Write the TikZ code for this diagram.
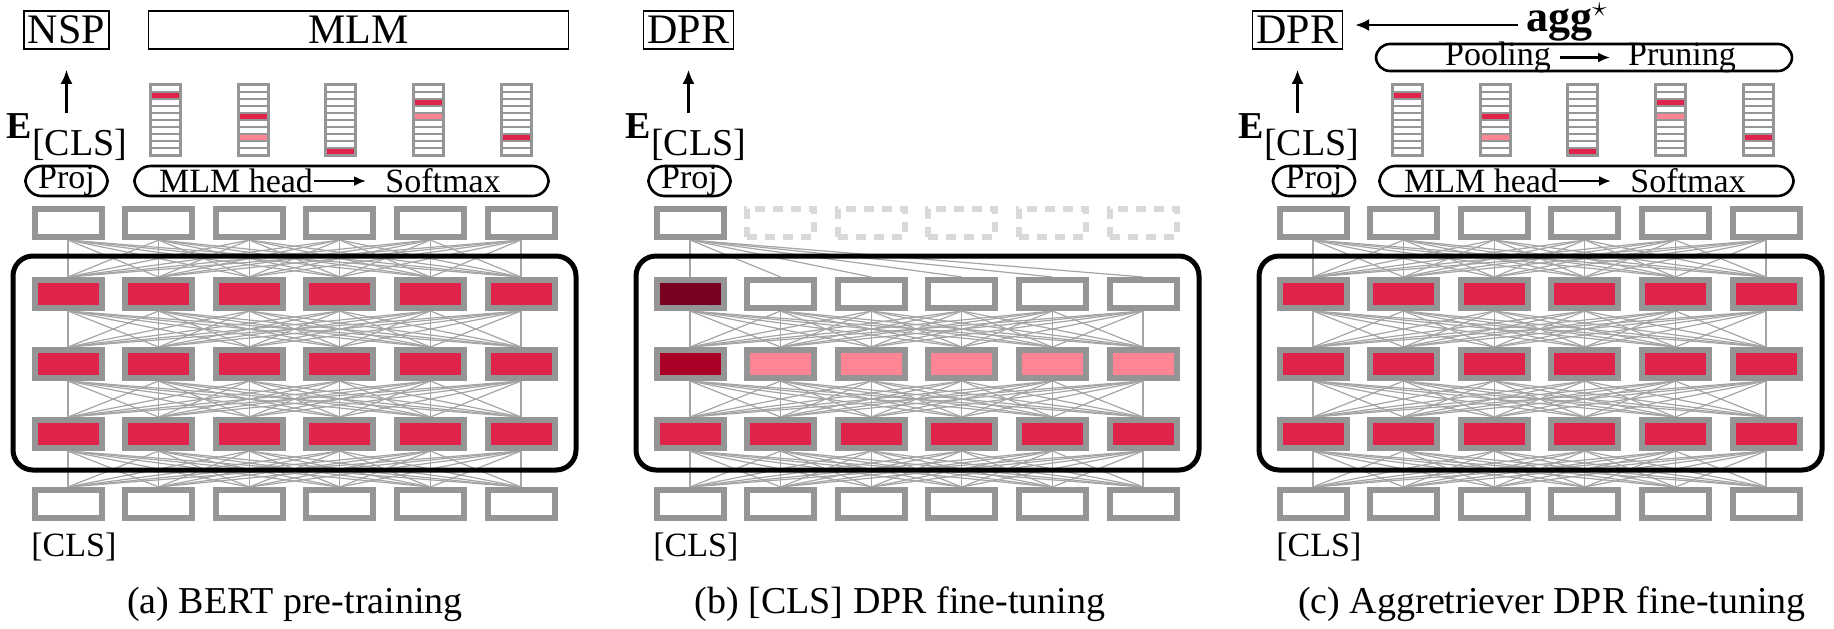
\documentclass[tikz,border=0pt]{standalone}
\usepackage{fontspec}
\setmainfont{Liberation Serif}
\usetikzlibrary{backgrounds,arrows.meta}
\definecolor{cred}{HTML}{E0234A}
\definecolor{cpink}{HTML}{FF8595}
\definecolor{cdarka}{HTML}{7A0020}
\definecolor{cdarkb}{HTML}{AA0028}
\definecolor{cgray}{HTML}{959595}
\definecolor{clight}{HTML}{D9D9D9}
\definecolor{cline}{HTML}{A5A5A5}
\newcommand{\fsz}[1]{\fontsize{#1}{#1}\selectfont}
\begin{document}
\begin{tikzpicture}[x=0.5pt,y=-0.5pt,
  cell/.style={draw=cgray,line width=3pt,minimum width=33.5pt,minimum height=14pt,inner sep=0pt,fill=white},
  dcell/.style={draw=clight,line width=3pt,minimum width=33.5pt,minimum height=14pt,inner sep=0pt,dash pattern=on 5pt off 4pt},
  conn/.style={draw=cline,line width=0.6pt},
  frame/.style={line width=2.5pt,rounded corners=10pt},
  pill/.style={draw,line width=1.3pt,rounded corners=8pt,minimum height=15pt,inner sep=0pt},
  pill2/.style={draw,line width=1.3pt,rounded corners=7pt,minimum height=13.5pt,inner sep=0pt},
  tbox/.style={draw,line width=0.8pt,inner sep=2pt,minimum height=19pt,font=\fsz{21}},
  lbl/.style={font=\fsz{17},inner sep=0pt},
  arr/.style={-{Latex[length=7pt,width=6pt]},line width=1.3pt},
  sarr/.style={-{Latex[length=6pt,width=5pt]},line width=1.1pt},
  captxt/.style={font=\fsz{19}}]
\useasboundingbox (0,0) rectangle (1834,628);
% ---------- panels a and c : grid ----------
\foreach \ox/\p in {68/a,1313/c}{
  \foreach \k in {0,...,5}{
    \node[cell] (\p-o-\k) at (\ox+90.6*\k,223) {};
    \node[cell,fill=cred] (\p-1-\k) at (\ox+90.6*\k,294) {};
    \node[cell,fill=cred] (\p-2-\k) at (\ox+90.6*\k,364) {};
    \node[cell,fill=cred] (\p-3-\k) at (\ox+90.6*\k,434) {};
    \node[cell] (\p-i-\k) at (\ox+90.6*\k,504) {};
  }
}
% ---------- panel b : grid ----------
\foreach \k in {0,...,5}{
  \node[cell] (b-i-\k) at (690+90.6*\k,504) {};
  \node[cell,fill=cred] (b-3-\k) at (690+90.6*\k,434) {};
}
\node[cell] (b-o-0) at (690,223) {};
\node[cell,fill=cdarka] (b-1-0) at (690,294) {};
\node[cell,fill=cdarkb] (b-2-0) at (690,364) {};
\foreach \k in {1,...,5}{
  \node[dcell] (b-o-\k) at (690+90.6*\k,223) {};
  \node[cell] (b-1-\k) at (690+90.6*\k,294) {};
  \node[cell,fill=cpink] (b-2-\k) at (690+90.6*\k,364) {};
}
% ---------- connectors ----------
\begin{scope}[on background layer]
  \foreach \p in {a,c}{
    \foreach \r/\s in {o/1,1/2,2/3,3/i}{
      \foreach \i in {0,...,5}{
        \foreach \j in {0,...,5}{
          \draw[conn] (\p-\r-\i.south) -- (\p-\s-\j.north);
        }
      }
    }
  }
  \foreach \r/\s in {1/2,2/3,3/i}{
    \foreach \i in {0,...,5}{
      \foreach \j in {0,...,5}{
        \draw[conn] (b-\r-\i.south) -- (b-\s-\j.north);
      }
    }
  }
  \foreach \j in {0,...,5}{\draw[conn] (b-o-0.south) -- (b-1-\j.north);}
\end{scope}
% ---------- encoder frames ----------
\draw[frame] (13,256) rectangle (576,470);
\draw[frame] (636,256) rectangle (1199,470);
\draw[frame] (1259,256) rectangle (1822,470);
% ---------- [CLS] labels ----------
\node[lbl,anchor=west] (clsa) at (31,547) {[CLS]};
\node[lbl,anchor=west] (clsb) at (653,547) {[CLS]};
\node[lbl,anchor=west] (clsc) at (1276,547) {[CLS]};
% ---------- captions ----------
\node[captxt] (capa) at (295,604) {(a) BERT pre-training};
\node[captxt] (capb) at (900,604) {(b) [CLS] DPR fine-tuning};
\node[captxt] (capc) at (1552,604) {(c) Aggretriever DPR fine-tuning};
% ---------- Proj pills and E[CLS] ----------
\foreach \p/\x/\ex in {a/66.5/67,b/689.5/686,c/1314/1299}{
  \node[pill,minimum width=41pt,font=\fsz{17}] (proj\p) at (\x,181) {Proj};
  \node[inner sep=0pt,font=\fsz{19}] (e\p) at (\ex,137) {\textbf{E}\raisebox{-0.45em}{[CLS]}};
}
\node[tbox] (nsp) at (66.5,30) {NSP};
\node[tbox,minimum width=210pt] (mlm) at (358.5,30) {MLM};
\node[tbox] (dprb) at (688.5,30) {DPR};
\node[tbox] (dprc) at (1297.5,30) {DPR};
\draw[arr,shorten >=10pt] (nsp.south |- ea.north) -- (nsp.south);
\draw[arr,shorten >=10pt] (dprb.south |- eb.north) -- (dprb.south);
\draw[arr,shorten >=10pt] (dprc.south |- ec.north) -- (dprc.south);
% ---------- MLM head pills ----------
\foreach \p/\o in {a/0,c/1245}{
  \node[pill,minimum width=207pt] (head\p) at (341.5+\o,181) {};
  \node[lbl] (mh\p) at (236+\o,181) {MLM head};
  \node[lbl] (sm\p) at (443+\o,181) {Softmax};
  \coordinate (ha\p) at (314+\o,181);
  \coordinate (hb\p) at (366+\o,181);
  \draw[sarr] (ha\p) -- (hb\p);
}
% ---------- Pooling / Pruning ----------
\node[pill2,minimum width=208pt] (pool) at (1584,57.5) {};
\node[lbl] (pooling) at (1498,57.5) {Pooling};
\node[lbl] (pruning) at (1682,57.5) {Pruning};
\coordinate (pa) at (1560,57.5);
\coordinate (pb) at (1610,57.5);
\draw[sarr] (pa) -- (pb);
\node[inner sep=0pt,font=\fsz{22}] (agg) at (1567,22) {\textbf{agg}$^{\star}$};
\coordinate (aggw) at (1518,25);
\draw[arr,shorten >=6pt] (aggw) -- (dprc.east |- aggw);
% ---------- vocabulary distributions ----------
\foreach \o in {0,1242}{
  \foreach \bx/\hr/\hp in {165/1/-1,253/4/7,340/9/-1,428/2/4,516/7/-1}{
    \fill[cgray] (\bx-16.5+\o,83) rectangle (\bx+16.5+\o,157);
    \foreach \m in {0,...,9}{
      \ifnum\m=\hr \def\cc{cred}\else\ifnum\m=\hp \def\cc{cpink}\else\def\cc{white}\fi\fi
      \fill[\cc] (\bx-13.5+\o,85.5+7*\m) rectangle (\bx+13.5+\o,90.5+7*\m);
    }
  }
}
\end{tikzpicture}
\end{document}
